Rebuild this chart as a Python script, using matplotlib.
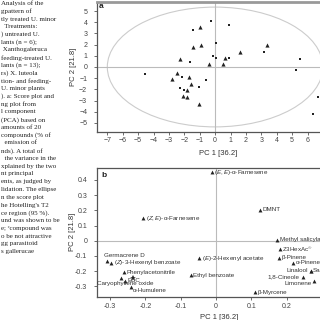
import matplotlib
matplotlib.use("Agg")
import matplotlib.pyplot as plt
from matplotlib.patches import Ellipse

plt.rcParams['font.family'] = ['Liberation Sans', 'DejaVu Sans']
plt.rcParams['mathtext.fontset'] = 'custom'
plt.rcParams['mathtext.rm'] = 'Liberation Sans'
plt.rcParams['mathtext.it'] = 'Liberation Sans:italic'

# caption column (cropped on the left in the original)
caption = [
    "Analysis of the",
    "gpattern of",
    "tly treated U. minor",
    "  Treatments:",
    ") untreated U.",
    "lants (n = 6);",
    " Xanthogaleruca",
    "feeding-treated U.",
    "lants (n = 13);",
    "rs) X. luteola",
    "tion- and feeding-",
    "U. minor plants",
    "). a: Score plot and",
    "ng plot from",
    "l component",
    "(PCA) based on",
    "amounts of 20",
    "compounds (% of",
    "  emission of",
    "nds). A total of",
    "  the variance in the",
    "xplained by the two",
    "nt principal",
    "ents, as judged by",
    "lidation. The ellipse",
    "n the score plot",
    "he Hotelling's T2",
    "ce region (95 %).",
    "und was shown to be",
    "e; \u1d9ccompound was",
    "o be not attractive",
    "gg parasitoid",
    "s gallerucae",
]

# panel a : scores
pc1_tri = [-0.97, -1.45, -0.89, 3.40, 1.60, 0.63, -2.25, -0.39, 0.48, -2.45,
           -2.81, -1.71, -1.58, -1.82, -2.06, -1.82, -1.04]
pc2_tri = [3.60, 1.79, 1.99, 1.99, 1.34, 0.77, 0.74, 0.30, 0.24, -0.51,
           -1.07, -0.89, -1.52, -2.08, -2.62, -2.65, -3.33]
pc1_sq = [-0.28, -1.41, 0.91, 0.09, 3.20, -0.13, 0.06, 0.89, -1.62, 5.54,
          5.26, -4.57, -2.14, -0.58, -2.25, -2.01, -1.06, 6.71, 6.34]
pc2_sq = [4.11, 3.27, 3.75, 2.11, 1.34, 0.98, 0.80, 0.80, 0.45, 0.68,
          -0.30, -0.63, -0.89, -1.13, -1.88, -2.05, -1.76, -2.71, -4.23]

# panel b : loadings
compounds = [r"($\it{E,E}$)-α-Farnesene", "DMNT", r"($\it{Z,E}$)-α-Farnesene",
             "Methyl salicylate", r"Z3HexAc$^{©}$", "β-Pinene", "α-Pinene",
             "Linalool", "Sabinene", "1,8-Cineole", "Limonene", "β-Myrcene",
             r"($\it{E}$)-2-Hexenyl acetate", "Ethyl benzoate", "Germacrene D",
             r"($\it{Z}$)-3-Hexenyl benzoate", "Phenylacetonitrile",
             "Caryophyllene oxide", "EBC", "α-Humulene"]
load1 = [-0.012, 0.125, -0.206, 0.173, 0.181, 0.179, 0.219, 0.268, 0.268, 0.245,
         0.277, 0.111, -0.047, -0.071, -0.310, -0.296, -0.260, -0.270, -0.259, -0.242]
load2 = [0.450, 0.202, 0.147, 0.005, -0.055, -0.112, -0.145, -0.197, -0.197, -0.237,
         -0.267, -0.338, -0.116, -0.228, -0.134, -0.145, -0.206, -0.245, -0.263, -0.307]
star1 = [-0.236]
star2 = [-0.247]

# label offsets in pixels (default: right of marker)
offsets = {"Linalool": (-2.5, 0, 'right'), "1,8-Cineole": (-3, 0, 'right'),
           "Limonene": (-2, -2, 'right'), "Germacrene D": (-3, 6, 'left'),
           "Caryophyllene oxide": (-24, -6, 'left'), "α-Humulene": (2.5, -3, 'left')}

W = 320.0
fig = plt.figure(figsize=(3.2, 3.2), dpi=100)

for i, line in enumerate(caption):
    fig.text(1 / W, 1 - (3.5 + i * 7.75) / W, line, ha='left', va='center',
             fontsize=5, family=['Liberation Serif', 'DejaVu Serif'], color='#222222')

tick_col = '#555555'


def style(ax):
    for s in ax.spines.values():
        s.set_color('#555555')
        s.set_linewidth(0.9)
    ax.tick_params(direction='out', length=2, width=0.6, color=tick_col,
                   labelsize=5, labelcolor='#444444', pad=2)
    ax.tick_params(axis='y', pad=5)


# panel a
axa = fig.add_axes([97 / W, 1 - 131.7 / W, 243 / W, 130.2 / W])
axa.set_xlim(-7.67, 8.11)
axa.set_ylim(-5.78, 5.85)
axa.add_patch(Ellipse((0, 0), 14.0, 10.7, fill=False, ec='#cccccc', lw=0.8))
axa.axhline(0, color='#bbbbbb', lw=0.8, zorder=1)
axa.axvline(0, color='#bbbbbb', lw=0.8, zorder=1)
axa.plot(pc1_tri, pc2_tri, '^', color='#222222', ms=3, mew=0)
axa.plot(pc1_sq, pc2_sq, 's', color='#222222', ms=2, mew=0)
axa.set_xticks(range(-7, 7))
axa.set_yticks(range(-5, 6))
style(axa)
axa.spines['top'].set_color('#999999')
axa.spines['top'].set_linewidth(2)
axa.set_xlabel("PC 1 [36.2]", fontsize=5.5, color='#333333')
axa.set_ylabel("PC 2 [21.8]", fontsize=5.5, color='#333333')
axa.xaxis.set_label_coords((218 - 97) / 243, -0.14)
axa.yaxis.set_label_coords(-(97 - 77) / 243, 0.5)
axa.text(0.008, 0.985, "a", transform=axa.transAxes, fontsize=6, fontweight='bold',
         va='top', ha='left', color='#222222')

# panel b
axb = fig.add_axes([97 / W, 1 - 297 / W, 243 / W, 129.3 / W])
axb.set_xlim(-0.337, 0.351)
axb.set_ylim(-0.370, 0.480)
axb.axhline(0, color='#bbbbbb', lw=0.8, zorder=1)
axb.axvline(0, color='#bbbbbb', lw=0.8, zorder=1)
axb.plot(load1, load2, '^', color='#222222', ms=2.8, mew=0)
axb.plot(star1, star2, '*', color='#222222', ms=4.5, mew=0)
for name, x, y in zip(compounds, load1, load2):
    dx, dy, ha = offsets.get(name, (2.5, 0, 'left'))
    axb.annotate(name, (x, y), xytext=(dx, dy), textcoords='offset pixels',
                 ha=ha, va='center', fontsize=4.5, color='#333333')
axb.set_xticks([-0.3, -0.2, -0.1, 0, 0.1, 0.2])
axb.set_xticklabels(["-0.3", "-0.2", "-0.1", "0", "0.1", "0.2"])
axb.set_yticks([-0.3, -0.2, -0.1, 0, 0.1, 0.2, 0.3, 0.4])
axb.set_yticklabels(["-0.3", "-0.2", "-0.1", "0", "0.1", "0.2", "0.3", "0.4"])
style(axb)
axb.set_xlabel("PC 1 [36.2]", fontsize=5.5, color='#333333')
axb.set_ylabel("PC 2 [21.8]", fontsize=5.5, color='#333333')
axb.xaxis.set_label_coords((219 - 97) / 243, -0.13)
axb.yaxis.set_label_coords(-(97 - 76) / 243, 0.5)
axb.text(0.02, 0.97, "b", transform=axb.transAxes, fontsize=6, fontweight='bold',
         va='top', ha='left', color='#222222')

fig.savefig("out.png", dpi=100)
